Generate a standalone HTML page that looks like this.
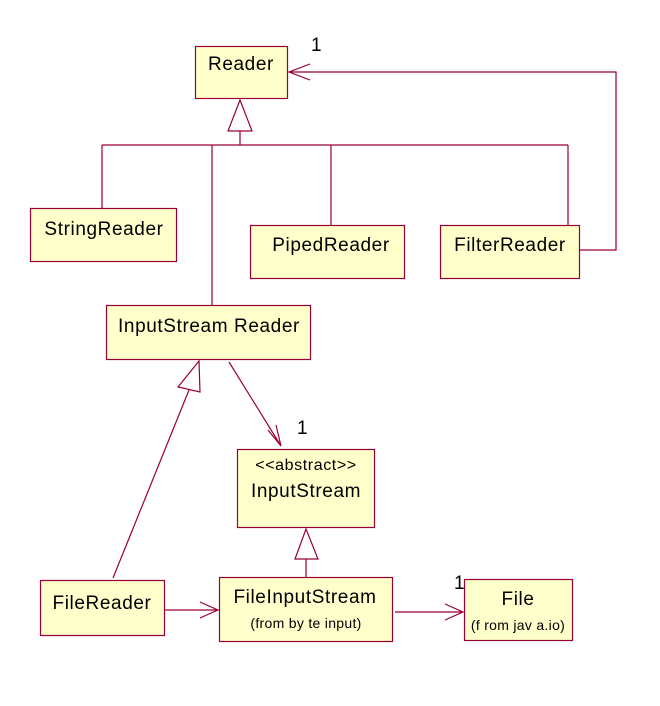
<!DOCTYPE html>
<html><head><style>
body{margin:0;background:#fff;}
svg text{font-family:"Liberation Sans",Arial,sans-serif;fill:#000;}
</style></head><body>
<svg width="660" height="701" xmlns="http://www.w3.org/2000/svg">
<g fill="#ffffcc" stroke="#990033" stroke-width="1.2">
<rect x="195.5" y="46.5" width="92" height="52"/>
<rect x="30.5" y="208.5" width="146" height="53"/>
<rect x="250.5" y="225.5" width="154" height="53"/>
<rect x="440.5" y="225.5" width="139" height="53"/>
<rect x="106.5" y="305.5" width="204" height="54"/>
<rect x="237.5" y="449.5" width="137" height="78"/>
<rect x="40.5" y="580.5" width="124" height="55"/>
<rect x="219.5" y="577.5" width="173" height="64"/>
<rect x="464.5" y="579.5" width="108" height="61"/>
</g>
<g fill="none" stroke="#990033" stroke-width="1.2">
<polygon points="240,100 228,131 252,131" fill="#fff"/>
<path d="M240 131V145M102 145H568M102 145V208M212 145V305M331 145V225M568 145V225"/>
<path d="M579 250H616V72H289M310 64L289 72L310 80"/>
<path d="M229 362L281 446M268 430L281 446L276 425"/>
<polygon points="199,361 178,387 200,392" fill="#fff"/>
<path d="M113 578L189 390"/>
<polygon points="306,529 295,559 318,559" fill="#fff"/>
<path d="M306 559V577"/>
<path d="M164 610H218M200 602L218 610L200 618"/>
<path d="M395 612H463M445 604L463 612L445 620"/>
</g>
<g font-size="19" text-anchor="middle" letter-spacing="0.6">
<text x="241" y="70">Reader</text>
<text x="104" y="235">StringReader</text>
<text x="331" y="251">PipedReader</text>
<text x="510" y="251">FilterReader</text>
<text x="209" y="332">InputStream Reader</text>
<text x="306" y="470" font-size="16">&lt;&lt;abstract&gt;&gt;</text>
<text x="306" y="497">InputStream</text>
<text x="102" y="609">FileReader</text>
<text x="305" y="603">FileInputStream</text>
<text x="306" y="628" font-size="14" letter-spacing="0.3">(from by te input)</text>
<text x="518" y="605">File</text>
<text x="518" y="630" font-size="14" letter-spacing="0.3">(f rom jav a.io)</text>
</g>
<g font-size="19">
<text x="311" y="51">1</text>
<text x="297" y="434">1</text>
<text x="454" y="589">1</text>
</g>
</svg>
</body></html>
